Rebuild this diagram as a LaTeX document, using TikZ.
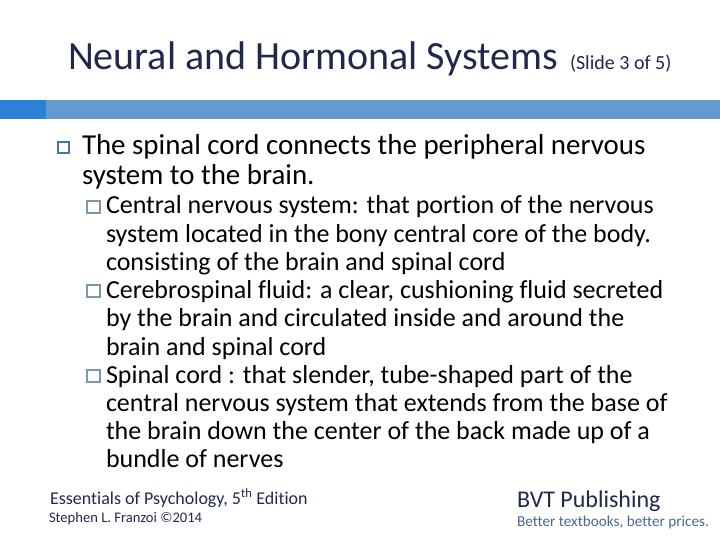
\documentclass[tikz,border=0pt]{standalone}
\usepackage{fontspec}
\setmainfont[Ligatures=NoCommon]{Carlito}
\definecolor{barblue}{RGB}{99,155,208}
\definecolor{tabblue}{RGB}{44,128,214}
\definecolor{markblue}{RGB}{62,118,176}
\definecolor{subgrey}{RGB}{122,150,178}
\definecolor{titleink}{RGB}{32,40,76}
\definecolor{priceink}{RGB}{72,104,146}
\tikzset{
	line/.style={anchor=base west,inner sep=0pt,outer sep=0pt},
	mainline/.style={line,font=\fontsize{28.9}{28.9}\selectfont},
	subline/.style={line,font=\fontsize{26}{26}\selectfont},
}
\begin{document}
\begin{tikzpicture}[x=1pt,y=-1pt]
		\useasboundingbox (0,0) rectangle (720,540);
		% title
		\node [line,titleink,font=\fontsize{40}{40}\selectfont] (title) at (68,70) {Neural and Hormonal Systems};
		\node [line,titleink,font=\fontsize{20}{20}\selectfont] (slide) at (570,70) {(Slide 3 of 5)};
		% bar
		\fill [barblue] (46,100) rectangle (720,119);
		\fill [tabblue] (0,100) rectangle (46,119);
		% main bullet
		\draw [markblue,line width=2pt] (58,142) rectangle (69,153);
		\node [mainline] (main1) at (82,155) {The spinal cord connects the peripheral nervous};
		\node [mainline] (main2) at (82,185) {system to the brain.};
		% sub bullets
		\draw [subgrey,line width=1.5pt] (87,201) rectangle (100,213);
		\draw [subgrey,line width=1.5pt] (87,285) rectangle (100,297);
		\draw [subgrey,line width=1.5pt] (87,370) rectangle (100,382);
		\node [subline] (sub1) at (106,214) {Central nervous system: that portion of the nervous};
		\node [subline] (sub2) at (106,242.2) {system located in the bony central core of the body.};
		\node [subline] (sub3) at (106,270.4) {consisting of the brain and spinal cord};
		\node [subline] (sub4) at (106,298.6) {Cerebrospinal fluid: a clear, cushioning fluid secreted};
		\node [subline] (sub5) at (106,326.8) {by the brain and circulated inside and around the};
		\node [subline] (sub6) at (106,355) {brain and spinal cord};
		\node [subline] (sub7) at (106,383.2) {Spinal cord : that slender, tube-shaped part of the};
		\node [subline] (sub8) at (106,411.4) {central nervous system that extends from the base of};
		\node [subline] (sub9) at (106,439.6) {the brain down the center of the back made up of a};
		\node [subline] (sub10) at (106,467.8) {bundle of nerves};
		% footer
		\node [line,titleink,font=\fontsize{18}{18}\selectfont] (book) at (50,504) {Essentials of Psychology, 5\textsuperscript{th} Edition};
		\node [line,titleink,font=\fontsize{14.6}{14.6}\selectfont] (writer) at (49,522) {Stephen L. Franzoi ©2014};
		\node [line,titleink,font=\fontsize{24}{24}\selectfont] (press) at (517,507) {BVT Publishing};
		\node [line,priceink,font=\fontsize{15.2}{15.2}\selectfont] (price) at (517,526) {Better textbooks, better prices.};
		\end{tikzpicture}
\end{document}
